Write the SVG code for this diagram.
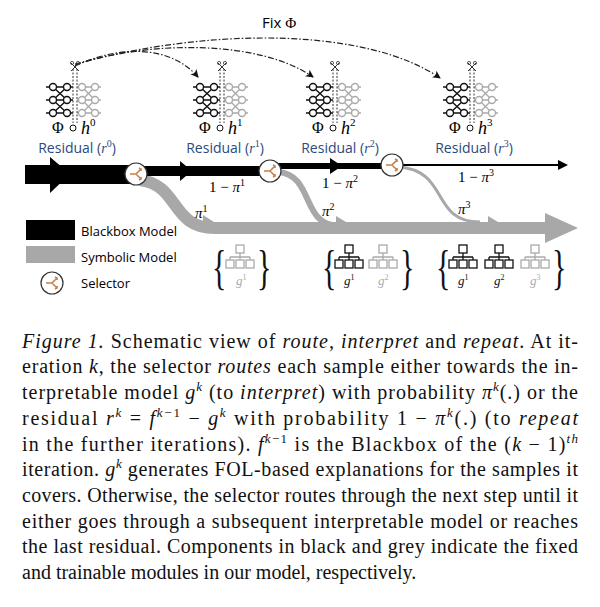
<svg xmlns="http://www.w3.org/2000/svg" width="600" height="607" viewBox="0 0 600 607">
<style>
.it{font-style:italic}
.res{font-size:14px;fill:#2b4a7e}
.dd{fill:none;stroke:#222;stroke-width:1.2;stroke-dasharray:6 2 1.5 2}
.bn{fill:#fff;stroke:#111;stroke-width:1.4}
.gn{fill:#fff;stroke:#aaa;stroke-width:1.4}
.bl{stroke:#111;stroke-width:1.4;fill:none}
.gl{stroke:#aaa;stroke-width:1.4;fill:none}
.sel{fill:#fff;stroke:#333;stroke-width:1.2}
.selg{fill:none;stroke:#c8804a;stroke-width:1.6}
</style>
<defs>
<marker id="ah" markerWidth="8" markerHeight="8" refX="7" refY="4" orient="auto" markerUnits="userSpaceOnUse"><path d="M0,0 L8,4 L0,8 L2,4 z" fill="#111"/></marker>
<g id="net">
<path class="bl" d="M-7,0 H14 M-7,13 H14 M-7,26 H14 M0,0 L14,13 M0,13 L14,0 M0,13 L14,26 M0,26 L14,13 M14,0 H20 M14,13 H20 M14,26 H20"/>
<circle class="bn" cx="0" cy="0" r="3.5"/><circle class="bn" cx="0" cy="13" r="3.5"/><circle class="bn" cx="0" cy="26" r="3.5"/>
<circle class="bn" cx="14" cy="0" r="3.5"/><circle class="bn" cx="14" cy="13" r="3.5"/><circle class="bn" cx="14" cy="26" r="3.5"/>
<path class="gl" d="M24,0 H48 M24,13 H48 M24,26 H48 M29,0 L42,13 M29,13 L42,0 M29,13 L42,26 M29,26 L42,13"/>
<circle class="gn" cx="29" cy="0" r="3.5"/><circle class="gn" cx="29" cy="13" r="3.5"/><circle class="gn" cx="29" cy="26" r="3.5"/>
<circle class="gn" cx="42" cy="0" r="3.5"/><circle class="gn" cx="42" cy="13" r="3.5"/><circle class="gn" cx="42" cy="26" r="3.5"/>
<path d="M20,-18 V36 M24,-18 V36" stroke="#333" stroke-width="1" stroke-dasharray="2 1.5"/>
<path d="M18,-24 L26,-16 M26,-24 L18,-16" stroke="#333" stroke-width="1"/>
<circle cx="19" cy="-24" r="1.6" fill="none" stroke="#333" stroke-width="0.8"/><circle cx="25" cy="-24" r="1.6" fill="none" stroke="#333" stroke-width="0.8"/>
<circle cx="20" cy="41" r="3" fill="#fff" stroke="#111" stroke-width="1"/>
</g>
<g id="selic">
<circle class="sel" r="11"/>
<path class="selg" d="M-6,0 H0 L5,-5 M0,0 L5,5 M3,-6 L5,-5 L5,-3 M3,6 L5,5 L5,3"/>
</g>
</defs>

<g id="fix">
<text x="262" y="28" font-family="Open Sans, Liberation Sans, sans-serif" font-size="15">Fix <tspan font-family="Liberation Serif, Times New Roman, serif">Φ</tspan></text>
</g>

<g id="connectors">
<path class="dd" d="M75,66 C120,45 170,45 198,77" marker-end="url(#ah)"/>
<path class="dd" d="M75,65 C150,40 260,40 313,77" marker-end="url(#ah)"/>
<path class="dd" d="M75,64 C220,25 370,30 440,78" marker-end="url(#ah)"/>
<path d="M140,180 C180,185 170,228 215,228 H545" fill="none" stroke="#a8a8a8" stroke-width="12"/>
<polygon points="545,213 578,228 545,243" fill="#a8a8a8"/>
<path d="M278,172 C315,175 300,226 340,226" fill="none" stroke="#a8a8a8" stroke-width="6"/>
<path d="M398,167 C450,170 430,222 480,222" fill="none" stroke="#a8a8a8" stroke-width="3"/>
<polygon points="203,215 214,222 203,222" fill="#a8a8a8"/>
<polygon points="336,216 346,222 336,222" fill="#a8a8a8"/>
<polygon points="488,216 498,222 488,222" fill="#a8a8a8"/>
<rect x="25" y="165" width="112" height="19" fill="#000"/>
<polygon points="50,157 70,174 50,193" fill="#000"/>
<rect x="137" y="166" width="130" height="10" fill="#000"/>
<polygon points="180,161 192,171 180,181" fill="#000"/>
<rect x="270" y="163" width="118" height="6" fill="#000"/>
<polygon points="330,158 342,166 330,174" fill="#000"/>
<line x1="392" y1="165" x2="562" y2="165" stroke="#000" stroke-width="2"/>
<polygon points="558,160 568,165 558,170" fill="#000"/>
</g>

<g font-family="Liberation Serif, Times New Roman, serif">
<g id="n0"><use href="#net" transform="translate(53,87)"/><text x="52" y="133" font-size="16">Φ</text><text x="81" y="134" class="it" font-size="18">h<tspan font-size="11" dy="-8" font-style="normal">0</tspan></text></g>
<g id="n1"><use href="#net" transform="translate(200,87)"/><text x="199" y="133" font-size="16">Φ</text><text x="228" y="134" class="it" font-size="18">h<tspan font-size="11" dy="-8" font-style="normal">1</tspan></text></g>
<g id="n2"><use href="#net" transform="translate(313,87)"/><text x="312" y="133" font-size="16">Φ</text><text x="341" y="134" class="it" font-size="18">h<tspan font-size="11" dy="-8" font-style="normal">2</tspan></text></g>
<g id="n3"><use href="#net" transform="translate(450,87)"/><text x="449" y="133" font-size="16">Φ</text><text x="478" y="134" class="it" font-size="18">h<tspan font-size="11" dy="-8" font-style="normal">3</tspan></text></g>
</g>
<g id="residuals" font-family="Open Sans, Liberation Sans, sans-serif">
<text x="77" y="153" class="res" text-anchor="middle">Residual (<tspan font-family="Liberation Serif, serif" font-style="italic">r</tspan><tspan font-family="Liberation Serif, serif" font-size="10" dy="-6">0</tspan><tspan dy="6">)</tspan></text>
<text x="225" y="153" class="res" text-anchor="middle">Residual (<tspan font-family="Liberation Serif, serif" font-style="italic">r</tspan><tspan font-family="Liberation Serif, serif" font-size="10" dy="-6">1</tspan><tspan dy="6">)</tspan></text>
<text x="340" y="153" class="res" text-anchor="middle">Residual (<tspan font-family="Liberation Serif, serif" font-style="italic">r</tspan><tspan font-family="Liberation Serif, serif" font-size="10" dy="-6">2</tspan><tspan dy="6">)</tspan></text>
<text x="474" y="153" class="res" text-anchor="middle">Residual (<tspan font-family="Liberation Serif, serif" font-style="italic">r</tspan><tspan font-family="Liberation Serif, serif" font-size="10" dy="-6">3</tspan><tspan dy="6">)</tspan></text>
</g>

<g id="sel1"><use href="#selic" transform="translate(136,174)"/></g>
<g id="sel2"><use href="#selic" transform="translate(270,171)"/></g>
<g id="sel3"><use href="#selic" transform="translate(392,165)"/></g>

<g id="labels" font-family="Liberation Serif, Times New Roman, serif" font-size="15">
<text x="209" y="192">1 − <tspan class="it">π</tspan><tspan font-size="10" dy="-6">1</tspan></text>
<text x="195" y="218" class="it">π<tspan font-size="10" dy="-6" font-style="normal">1</tspan></text>
<text x="322" y="188">1 − <tspan class="it">π</tspan><tspan font-size="10" dy="-6">2</tspan></text>
<text x="322" y="216" class="it">π<tspan font-size="10" dy="-6" font-style="normal">2</tspan></text>
<text x="458" y="182">1 − <tspan class="it">π</tspan><tspan font-size="10" dy="-6">3</tspan></text>
<text x="458" y="214" class="it">π<tspan font-size="10" dy="-6" font-style="normal">3</tspan></text>
</g>

<g id="legend" font-family="Open Sans, Liberation Sans, sans-serif" font-size="13">
<rect x="26" y="220" width="49" height="20" fill="#000"/>
<text x="81" y="236">Blackbox Model</text>
<rect x="26" y="246" width="49" height="17" fill="#a8a8a8"/>
<text x="81" y="262">Symbolic Model</text>
<use href="#selic" transform="translate(52,283)"/>
<text x="81" y="288">Selector</text>
</g>

<g font-family="Liberation Serif, Times New Roman, serif">
<g id="g1set">
<text font-size="30" fill="#111" transform="translate(212,284) scale(1,1.6)">{</text>
<g stroke="#aaa" stroke-width="1.3" fill="#fff">
<rect x="236" y="245" width="8" height="8"/>
<path d="M240,253 V257 M230,257 H250 M230,257 V260 M240,257 V260 M250,257 V260" fill="none"/>
<rect x="226" y="260" width="8" height="8"/><rect x="236" y="260" width="8" height="8"/><rect x="246" y="260" width="8" height="8"/>
</g>
<text x="236" y="285" class="it" fill="#aaa" font-size="13">g<tspan font-size="8" dy="-5" font-style="normal">1</tspan></text>
<text font-size="30" fill="#111" transform="translate(257,284) scale(1,1.6)">}</text>
</g>
<g id="g2set">
<text font-size="30" fill="#111" transform="translate(322,284) scale(1,1.6)">{</text>
<g stroke="#111" stroke-width="1.3" fill="#fff">
<rect x="345" y="245" width="8" height="8"/>
<path d="M349,253 V257 M339,257 H359 M339,257 V260 M349,257 V260 M359,257 V260" fill="none"/>
<rect x="335" y="260" width="8" height="8"/><rect x="345" y="260" width="8" height="8"/><rect x="355" y="260" width="8" height="8"/>
</g>
<g stroke="#aaa" stroke-width="1.3" fill="#fff">
<rect x="379" y="245" width="8" height="8"/>
<path d="M383,253 V257 M373,257 H393 M373,257 V260 M383,257 V260 M393,257 V260" fill="none"/>
<rect x="369" y="260" width="8" height="8"/><rect x="379" y="260" width="8" height="8"/><rect x="389" y="260" width="8" height="8"/>
</g>
<text x="344" y="285" class="it" fill="#111" font-size="13">g<tspan font-size="8" dy="-5" font-style="normal">1</tspan></text>
<text x="378" y="285" class="it" fill="#aaa" font-size="13">g<tspan font-size="8" dy="-5" font-style="normal">2</tspan></text>
<text font-size="30" fill="#111" transform="translate(400,284) scale(1,1.6)">}</text>
</g>
<g id="g3set">
<text font-size="30" fill="#111" transform="translate(436,284) scale(1,1.6)">{</text>
<g stroke="#111" stroke-width="1.3" fill="#fff">
<rect x="459" y="245" width="8" height="8"/>
<path d="M463,253 V257 M453,257 H473 M453,257 V260 M463,257 V260 M473,257 V260" fill="none"/>
<rect x="449" y="260" width="8" height="8"/><rect x="459" y="260" width="8" height="8"/><rect x="469" y="260" width="8" height="8"/>
<rect x="495" y="245" width="8" height="8"/>
<path d="M499,253 V257 M489,257 H509 M489,257 V260 M499,257 V260 M509,257 V260" fill="none"/>
<rect x="485" y="260" width="8" height="8"/><rect x="495" y="260" width="8" height="8"/><rect x="505" y="260" width="8" height="8"/>
</g>
<g stroke="#aaa" stroke-width="1.3" fill="#fff">
<rect x="531" y="245" width="8" height="8"/>
<path d="M535,253 V257 M525,257 H545 M525,257 V260 M535,257 V260 M545,257 V260" fill="none"/>
<rect x="521" y="260" width="8" height="8"/><rect x="531" y="260" width="8" height="8"/><rect x="541" y="260" width="8" height="8"/>
</g>
<text x="458" y="285" class="it" fill="#111" font-size="13">g<tspan font-size="8" dy="-5" font-style="normal">1</tspan></text>
<text x="494" y="285" class="it" fill="#111" font-size="13">g<tspan font-size="8" dy="-5" font-style="normal">2</tspan></text>
<text x="530" y="285" class="it" fill="#aaa" font-size="13">g<tspan font-size="8" dy="-5" font-style="normal">3</tspan></text>
<text font-size="30" fill="#111" transform="translate(552,284) scale(1,1.6)">}</text>
</g>
</g>

<g id="caption" font-family="Liberation Serif, Times New Roman, serif" font-size="20" fill="#111">
<text x="22" y="348" textLength="556" lengthAdjust="spacing"><tspan class="it">Figure 1.</tspan> Schematic view of <tspan class="it">route, interpret</tspan> and <tspan class="it">repeat</tspan>.  At it-</text>
<text x="22" y="373" textLength="556" lengthAdjust="spacing">eration <tspan class="it">k</tspan>, the selector <tspan class="it">routes</tspan> each sample either towards the in-</text>
<text x="22" y="399" textLength="556" lengthAdjust="spacing">terpretable model <tspan class="it">g</tspan><tspan class="it" font-size="13" dy="-8">k</tspan><tspan dy="8"> (to </tspan><tspan class="it">interpret</tspan>) with probability <tspan class="it">π</tspan><tspan class="it" font-size="13" dy="-8">k</tspan><tspan dy="8">(.) or the</tspan></text>
<text x="22" y="425" textLength="556" lengthAdjust="spacing">residual <tspan class="it">r</tspan><tspan class="it" font-size="13" dy="-8">k</tspan><tspan dy="8"> = </tspan><tspan class="it">f</tspan><tspan font-size="13" dy="-8"><tspan class="it">k</tspan>−1</tspan><tspan dy="8"> − </tspan><tspan class="it">g</tspan><tspan class="it" font-size="13" dy="-8">k</tspan><tspan dy="8"> with probability 1 − </tspan><tspan class="it">π</tspan><tspan class="it" font-size="13" dy="-8">k</tspan><tspan dy="8">(.) (to </tspan><tspan class="it">repeat</tspan></text>
<text x="22" y="451" textLength="556" lengthAdjust="spacing">in the further iterations).  <tspan class="it">f</tspan><tspan font-size="13" dy="-8"><tspan class="it">k</tspan>−1</tspan><tspan dy="8"> is the Blackbox of the (</tspan><tspan class="it">k</tspan> − 1)<tspan class="it" font-size="13" dy="-8">th</tspan></text>
<text x="22" y="476" textLength="556" lengthAdjust="spacing">iteration. <tspan class="it">g</tspan><tspan class="it" font-size="13" dy="-8">k</tspan><tspan dy="8"> generates FOL-based explanations for the samples it</tspan></text>
<text x="22" y="502" textLength="556" lengthAdjust="spacing">covers. Otherwise, the selector routes through the next step until it</text>
<text x="22" y="528" textLength="556" lengthAdjust="spacing">either goes through a subsequent interpretable model or reaches</text>
<text x="22" y="553" textLength="556" lengthAdjust="spacing">the last residual. Components in black and grey indicate the fixed</text>
<text x="22" y="579">and trainable modules in our model, respectively.</text>
</g>
</svg>
